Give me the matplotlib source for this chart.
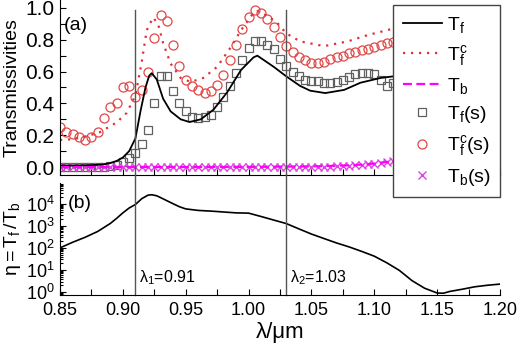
import matplotlib
matplotlib.use("Agg")
import matplotlib.pyplot as plt
from matplotlib.ticker import MultipleLocator, LogLocator, LogFormatterMathtext, NullFormatter
from matplotlib.lines import Line2D

plt.rcParams['font.family'] = ['Liberation Sans', 'DejaVu Sans']
plt.rcParams['mathtext.fontset'] = 'custom'
plt.rcParams['mathtext.rm'] = 'Liberation Sans'
plt.rcParams['mathtext.it'] = 'Liberation Sans:italic'
plt.rcParams['mathtext.bf'] = 'Liberation Sans:bold'

# ---------------- data ----------------
lam_Tf = [0.85, 0.86, 0.87, 0.88, 0.885, 0.89, 0.895, 0.90, 0.905, 0.91, 0.914, 0.918, 0.921,
          0.923, 0.927, 0.932, 0.938, 0.946, 0.953, 0.962, 0.972, 0.983, 0.994, 1.004, 1.007,
          1.02, 1.03, 1.041, 1.049, 1.061, 1.076, 1.089, 1.105, 1.115, 1.13, 1.15, 1.175, 1.2]
Tf = [0.010, 0.010, 0.011, 0.014, 0.017, 0.025, 0.038, 0.060, 0.100, 0.180, 0.350, 0.500, 0.575,
      0.590, 0.550, 0.430, 0.350, 0.300, 0.283, 0.300, 0.360, 0.470, 0.610, 0.690, 0.700,
      0.630, 0.570, 0.510, 0.480, 0.465, 0.485, 0.530, 0.560, 0.570, 0.575, 0.570, 0.560, 0.550]

lam_Tfc = [0.85, 0.86, 0.87, 0.882, 0.895, 0.903, 0.91, 0.915, 0.919, 0.924, 0.928, 0.932, 0.938,
           0.946, 0.954, 0.964, 0.975, 0.986, 0.994, 1.004, 1.007, 1.015, 1.023, 1.03, 1.041,
           1.06, 1.079, 1.095, 1.115, 1.14, 1.17, 1.2]
Tfc = [0.17, 0.175, 0.19, 0.22, 0.28, 0.34, 0.45, 0.66, 0.86, 0.94, 0.90, 0.78, 0.65,
       0.56, 0.535, 0.56, 0.63, 0.755, 0.86, 0.97, 0.98, 0.95, 0.905, 0.84, 0.79,
       0.76, 0.79, 0.83, 0.87, 0.89, 0.90, 0.90]

lam_Tb = [0.85, 0.90, 0.95, 1.00, 1.02, 1.05, 1.07, 1.09, 1.10, 1.11, 1.12, 1.15, 1.2]
Tb = [0.0, 0.0, 0.0, 0.001, 0.002, 0.004, 0.008, 0.015, 0.022, 0.032, 0.038, 0.046, 0.05]

lam_s = [0.85, 0.855, 0.86, 0.865, 0.87, 0.875, 0.88, 0.885, 0.89, 0.895,
         0.90, 0.905, 0.91, 0.915, 0.92, 0.925, 0.93, 0.935, 0.94, 0.945,
         0.95, 0.955, 0.96, 0.965, 0.97, 0.975, 0.98, 0.985, 0.99, 0.995,
         1.00, 1.005, 1.01, 1.015, 1.02, 1.025, 1.03, 1.035, 1.04, 1.045,
         1.05, 1.055, 1.06, 1.065, 1.07, 1.075, 1.08, 1.085, 1.09, 1.095,
         1.10, 1.105, 1.11, 1.115, 1.12, 1.125, 1.13, 1.135, 1.14, 1.145,
         1.15, 1.155, 1.16, 1.165, 1.17, 1.175, 1.18, 1.185, 1.19, 1.195, 1.20]
Tf_s = [0.0, 0.0, 0.0, 0.0, 0.0, 0.0, 0.0, 0.0, 0.005, 0.015,
        0.03, 0.055, 0.09, 0.145, 0.23, 0.40, 0.57, 0.57, 0.48, 0.40,
        0.35, 0.315, 0.31, 0.315, 0.33, 0.38, 0.44, 0.51, 0.59, 0.67,
        0.75, 0.79, 0.79, 0.77, 0.74, 0.68, 0.635, 0.60, 0.57, 0.55,
        0.54, 0.54, 0.53, 0.53, 0.535, 0.55, 0.565, 0.585, 0.59, 0.59,
        0.585, 0.55, 0.51, 0.53, 0.55, 0.56, 0.57, 0.57, 0.57, 0.57,
        0.565, 0.56, 0.56, 0.555, 0.555, 0.55, 0.55, 0.55, 0.545, 0.545, 0.54]
Tfc_s = [0.25, 0.22, 0.21, 0.19, 0.17, 0.19, 0.22, 0.31, 0.38, 0.40,
         0.50, 0.51, 0.44, 0.485, 0.60, 0.81, 0.955, 0.92, 0.77, 0.635,
         0.55, 0.51, 0.485, 0.465, 0.48, 0.515, 0.58, 0.67, 0.77, 0.865,
         0.945, 0.99, 0.97, 0.93, 0.88, 0.82, 0.76, 0.72, 0.69, 0.67,
         0.655, 0.655, 0.66, 0.68, 0.69, 0.70, 0.715, 0.725, 0.735, 0.745,
         0.755, 0.77, 0.78, 0.785, 0.79, 0.795, 0.80, 0.80, 0.805, 0.81,
         0.81, 0.815, 0.815, 0.82, 0.82, 0.82, 0.825, 0.825, 0.83, 0.83, 0.83]
Tb_s = [0.0, 0.0, 0.0, 0.0, 0.0, 0.0, 0.0, 0.0, 0.0, 0.0,
        0.0, 0.0, 0.0, 0.0, 0.0, 0.0, 0.0, 0.0, 0.0, 0.0,
        0.0, 0.0, 0.0, 0.0, 0.0, 0.0, 0.0, 0.0, 0.0, 0.0,
        0.0, 0.0, 0.0, 0.0, 0.0, 0.0, 0.0, 0.0, 0.0, 0.0,
        0.0, 0.001, 0.002, 0.003, 0.005, 0.007, 0.009, 0.012, 0.015, 0.018,
        0.022, 0.026, 0.031, 0.036, 0.04, 0.043, 0.045, 0.047, 0.048, 0.049,
        0.05, 0.05, 0.05, 0.05, 0.05, 0.05, 0.05, 0.05, 0.05, 0.05, 0.05]

lam_eta = [0.85, 0.86, 0.87, 0.88, 0.89, 0.895, 0.90, 0.905, 0.91, 0.915, 0.92, 0.923,
           0.927, 0.93, 0.935, 0.94, 0.945, 0.95, 0.96, 0.97, 0.98, 0.99, 1.00, 1.01,
           1.02, 1.03, 1.04, 1.05, 1.06, 1.07, 1.08, 1.09, 1.10, 1.11, 1.12, 1.13,
           1.14, 1.15, 1.155, 1.16, 1.17, 1.18, 1.19, 1.20]
eta = [100, 178, 300, 550, 1260, 2140, 3800, 6300, 9100, 16600, 24000, 25000,
       22400, 18600, 13500, 9800, 7200, 5750, 4900, 4570, 4170, 3800, 3700, 2600,
       1800, 1250, 720, 420, 263, 166, 110, 69, 42, 21, 9.5, 3.3,
       1.5, 0.91, 0.89, 1.07, 1.35, 1.74, 2.04, 2.3]

lam1, lam2 = 0.91, 1.03

# ---------------- figure ----------------
W, H = 520, 348
fig = plt.figure(figsize=(W / 100, H / 100), dpi=100)
ax1 = fig.add_axes([60 / W, 1 - 175 / H, 440 / W, 175 / H])
ax2 = fig.add_axes([60 / W, 1 - 295 / H, 440 / W, 112 / H])

red = '#e0303a'
mag = '#ff00ff'
gray = '#555555'

# top panel
ax1.plot(lam_s, Tf_s, ls='none', marker='s', ms=5.5, mfc='none', mec='#606060', mew=0.9)
ax1.plot(lam_s, Tfc_s, ls='none', marker='o', ms=6.5, mfc='none', mec='#e04848', mew=0.9)
ax1.plot(lam_s, Tb_s, ls='none', marker='x', ms=5.5, mec='#dd44dd', mew=1.0)
ax1.plot(lam_Tf, Tf, color='black', lw=1.3)
ax1.plot(lam_Tfc, Tfc, color=red, lw=1.6, ls=(0, (1, 2.6)))
ax1.plot(lam_Tb, Tb, color=mag, lw=1.6, ls=(0, (4, 2)))
for l in (lam1, lam2):
    ax1.axvline(l, ymin=0, ymax=0.943, color=gray, lw=1.0)

ax1.set_xlim(0.85, 1.20)
ax1.set_ylim(-0.05, 1.05)
ax1.xaxis.set_major_locator(MultipleLocator(0.05))
ax1.xaxis.set_minor_locator(MultipleLocator(0.025))
ax1.yaxis.set_major_locator(MultipleLocator(0.2))
ax1.yaxis.set_minor_locator(MultipleLocator(0.1))
ax1.tick_params(axis='both', which='both', direction='in', length=4, width=0.8, labelsize=15, pad=4)
ax1.tick_params(axis='x', labelbottom=False)
ax1.yaxis.set_major_formatter(plt.FuncFormatter(lambda v, p: f'{v:.1f}'))
ax1.spines['top'].set_visible(False)
ax1.spines['right'].set_visible(False)
ax1.set_ylabel('Transmissivities', fontsize=14, labelpad=3)
ax1.text(0.853, 0.89, '(a)', fontsize=14, va='center', ha='left')

# bottom panel
ax2.plot(lam_eta, eta, color='black', lw=1.2)
for l in (lam1, lam2):
    ax2.axvline(l, ymin=0, ymax=1.075, color=gray, lw=1.0, clip_on=False)
ax2.set_yscale('log')
ax2.set_xlim(0.85, 1.20)
ax2.set_ylim(0.74, 8.5e4)
ax2.xaxis.set_major_locator(MultipleLocator(0.05))
ax2.xaxis.set_minor_locator(MultipleLocator(0.025))
ax2.xaxis.set_major_formatter(plt.FuncFormatter(lambda v, p: f'{v:.2f}'))
ax2.yaxis.set_major_locator(LogLocator(base=10, numticks=10))
ax2.yaxis.set_minor_locator(LogLocator(base=10, subs=[2, 3, 4, 5, 6, 7, 8, 9], numticks=10))
ax2.yaxis.set_major_formatter(LogFormatterMathtext())
ax2.yaxis.set_minor_formatter(NullFormatter())
ax2.tick_params(axis='both', which='both', direction='in', width=0.8)
ax2.tick_params(axis='x', which='both', length=4, labelsize=13, pad=5)
ax2.tick_params(axis='y', which='major', length=4, labelsize=13, pad=4)
ax2.tick_params(axis='y', which='minor', length=2)
ax2.spines['top'].set_visible(False)
ax2.spines['right'].set_visible(False)
ax2.set_ylabel(r'$\mathregular{\eta=T_f\,/T_b}$', fontsize=14, labelpad=2)
ax2.set_xlabel('λ/μm', fontsize=16, labelpad=2)
ax2.text(0.856, 1.0e4, '(b)', fontsize=14, va='center', ha='left')
ax2.text(lam1 + 0.003, 4.5, r'$\mathregular{\lambda_1}$=0.91', fontsize=11.5, va='center', ha='left')
ax2.text(lam2 + 0.003, 4.5, r'$\mathregular{\lambda_2}$=1.03', fontsize=11.5, va='center', ha='left')

# legend
handles = [
    Line2D([], [], color='black', lw=1.3),
    Line2D([], [], color=red, lw=1.6, ls=(0, (1, 2.6))),
    Line2D([], [], color=mag, lw=1.6, ls=(0, (4, 2))),
    Line2D([], [], ls='none', marker='s', ms=5.5, mfc='none', mec='#606060', mew=0.9),
    Line2D([], [], ls='none', marker='o', ms=6.5, mfc='none', mec='#e04848', mew=0.9),
    Line2D([], [], ls='none', marker='x', ms=5.5, mec='#dd44dd', mew=1.0),
]
labels = [r'$\mathregular{T_f}$', r'$\mathregular{T_f^c}$', r'$\mathregular{T_b}$',
          r'$\mathregular{T_f(s)}$', r'$\mathregular{T_f^c(s)}$', r'$\mathregular{T_b(s)}$']
leg = fig.legend(handles, labels, loc='upper right', bbox_to_anchor=(500 / W, 1 - 5 / H),
                 bbox_transform=fig.transFigure, fontsize=14, frameon=True, fancybox=False,
                 edgecolor='#444444', framealpha=1, borderaxespad=0, handlelength=2.0,
                 handletextpad=0.25, labelspacing=0.42, borderpad=0.5)
leg.get_frame().set_linewidth(1.0)

fig.savefig('out.png', dpi=100)
